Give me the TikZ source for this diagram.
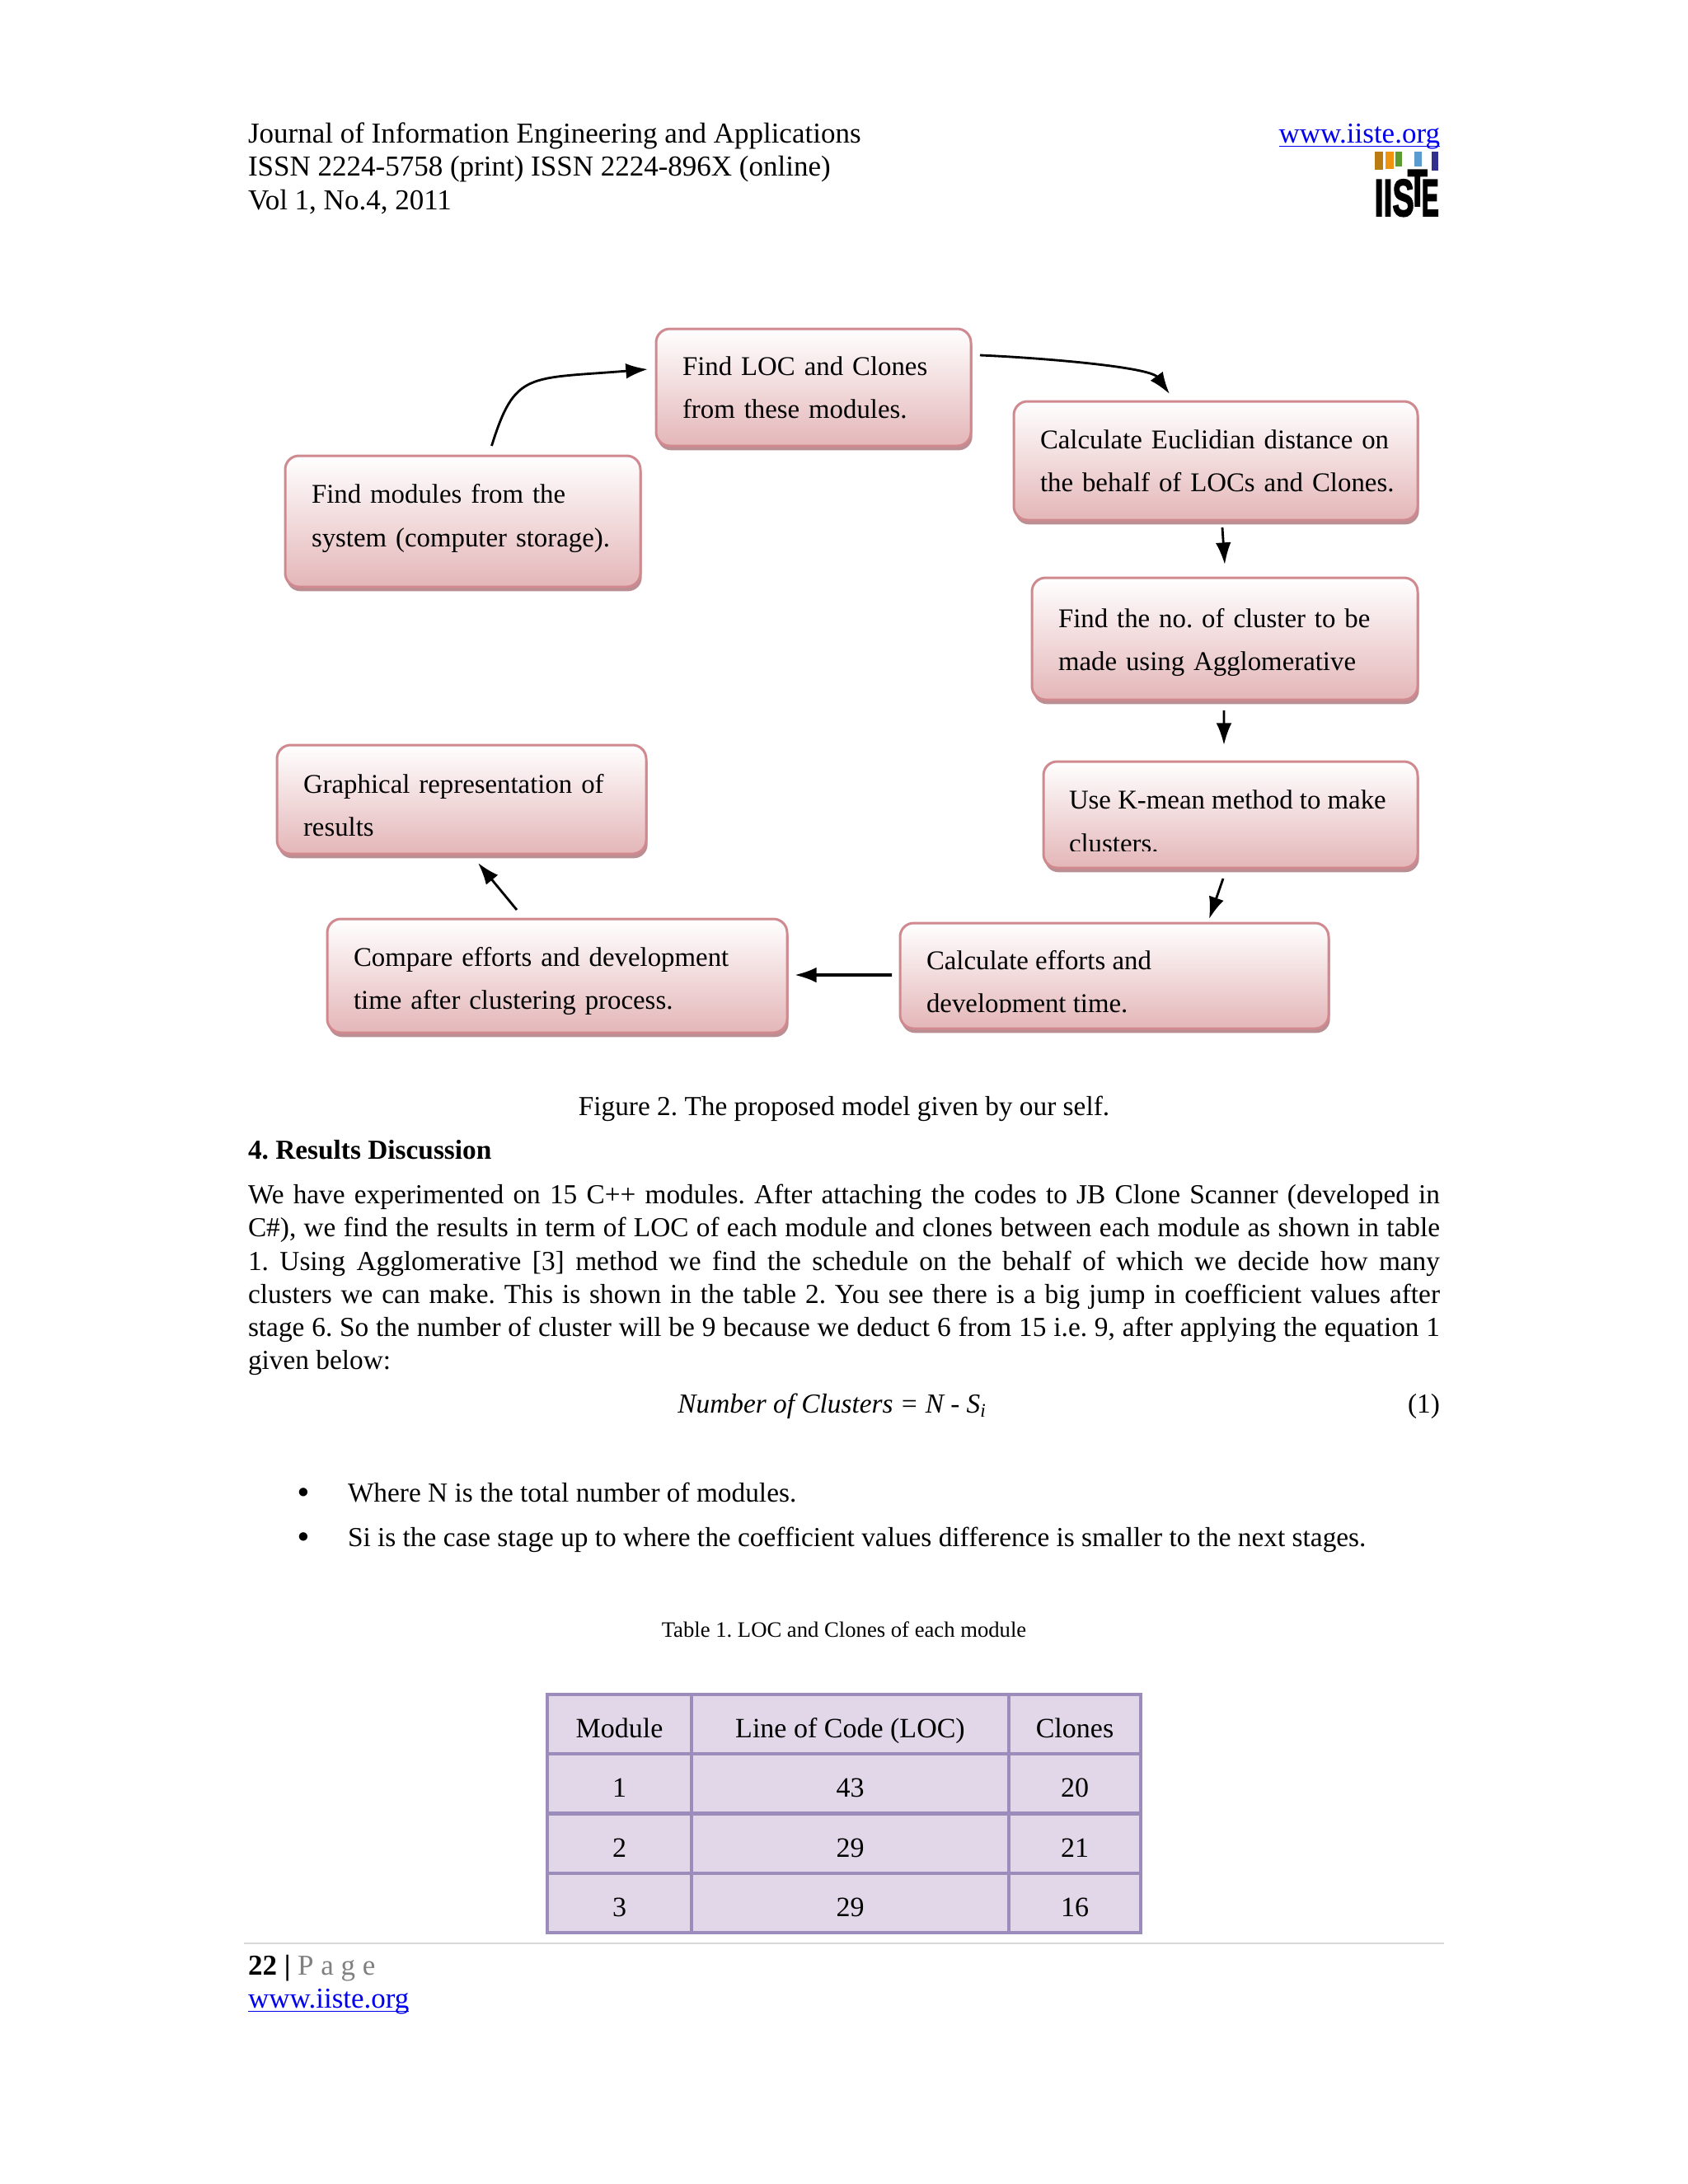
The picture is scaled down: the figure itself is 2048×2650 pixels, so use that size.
\documentclass[tikz,border=0pt]{standalone}
\usepackage{graphicx}
\usepackage{fontspec}
\setmainfont{Liberation Serif}
\newfontfamily\logofont[BoldFeatures={FakeBold=3}]{Liberation Sans}
\usetikzlibrary{arrows.meta,calc,shadows}
\definecolor{boxline}{HTML}{D0898F}
\definecolor{boxmid}{HTML}{F0D8D9}
\definecolor{boxlow}{HTML}{E4B6B8}
\definecolor{boxshadow}{HTML}{B98F93}
\definecolor{gridline}{HTML}{9C8CBC}
\definecolor{gridfill}{HTML}{E1D7E9}
\definecolor{linkblue}{HTML}{0000EE}
\tikzset{
  >=Latex,
  flowbox/.style={draw=boxline, line width=.9pt, rounded corners=5pt, anchor=north west,
    top color=white, middle color=boxmid, bottom color=boxlow, align=left,
    inner xsep=9.6pt, inner ysep=0pt, outer sep=0pt,
    font=\frenchspacing\fontsize{9.85}{15.7}\selectfont,
    drop shadow={shadow xshift=.5pt, shadow yshift=-1.6pt, fill=boxshadow, opacity=1}},
  arr/.style={-{Latex[length=8pt,width=5.6pt]}, line width=.85pt},
  pagetext/.style={inner sep=0pt, outer sep=0pt, anchor=north west, align=left,
    font=\frenchspacing\fontsize{10}{12.08}\selectfont},
  headtext/.style={pagetext, font=\frenchspacing\fontsize{10.5}{12.08}\selectfont},
  gridcell/.style={draw=gridline, fill=gridfill, line width=1.2pt, minimum height=21.75pt,
    inner sep=0pt, text height=9.8pt, text depth=0pt, font=\fontsize{10.2}{13}\selectfont}
}
\begin{document}
\begin{tikzpicture}[x=.3pt,y=-.3pt]
\path[use as bounding box, fill=white] (0,0) rectangle (2048,2650);

% ------------------------------------------------------------------
% page head
% ------------------------------------------------------------------
\node[headtext] (journal) at (301,149)
  {Journal of Information Engineering and Applications\\
   ISSN 2224-5758 (print) ISSN 2224-896X (online)\\
   Vol 1, No.4, 2011};
\node[headtext, anchor=base east, text=linkblue] (siteHead) at (1747,173) {\underline{\smash{www.iiste.org}}};

\fill[fill={rgb,255:red,184;green,124;blue,16}] (1668,184) rectangle (1678,206);
\fill[fill={rgb,255:red,240;green,147;blue,15}] (1681,184) rectangle (1691,205);
\fill[fill={rgb,255:red,94;green,154;blue,46}] (1693,184) rectangle (1701,202);
\fill[fill={rgb,255:red,90;green,155;blue,208}] (1716,184) rectangle (1725,202);
\fill[fill={rgb,255:red,48;green,48;blue,143}] (1737,184) rectangle (1745,207);
\node[inner sep=0pt, anchor=base west, font=\logofont\bfseries\fontsize{19}{19}\selectfont] (logoIis) at (1667,262)
  {\scalebox{.62}[1]{IIS}};
\node[inner sep=0pt, anchor=base west, font=\logofont\bfseries\fontsize{19}{19}\selectfont] (logoT) at (1707,250)
  {\scalebox{.62}[1]{T}};
\node[inner sep=0pt, anchor=base west, font=\logofont\bfseries\fontsize{19}{19}\selectfont] (logoE) at (1724,262)
  {\scalebox{.5}[1]{E}};

% ------------------------------------------------------------------
% flow
% ------------------------------------------------------------------
\node[flowbox, text width=95.4pt, minimum height=42.6pt] (findLoc) at (796,399)
  {Find LOC and Clones\\from these modules.};
\node[flowbox, text width=127.8pt, minimum height=43.2pt] (calcDist) at (1230,487)
  {\mbox{Calculate Euclidian distance on}\\\mbox{the behalf of LOCs and Clones.}};
\node[flowbox, text width=110.1pt, minimum height=47.7pt] (findModules) at (346,553)
  {Find modules from the\\\mbox{system (computer storage).}\rule[-4.3pt]{0pt}{4.3pt}};
\node[flowbox, text width=121.2pt, minimum height=44.4pt] (noCluster) at (1252,701)
  {\rule{0pt}{9.5pt}Find the no. of cluster to be\\made using Agglomerative};
\node[flowbox, text width=117pt, minimum height=38.7pt] (kmean) at (1266,924) {};
\node[flowbox, text width=115.2pt, minimum height=39.6pt] (graphical) at (336,904)
  {\rule{0pt}{11pt}Graphical representation of\\results};
\node[flowbox, text width=148.2pt, minimum height=41.4pt] (compare) at (397,1115)
  {\rule{0pt}{11pt}Compare efforts and development\\time after clustering process.};
\node[flowbox, text width=136.8pt, minimum height=38.4pt] (calcEffort) at (1092,1120) {};

\begin{scope}
  \clip (1290,940) rectangle (1700,1032);
  \node[pagetext, font=\frenchspacing\fontsize{9.85}{15.7}\selectfont] (kmeanText) at (1297,959)
    {Use K-mean method to make\\clusters.};
\end{scope}
\begin{scope}
  \clip (1110,1135) rectangle (1590,1228);
  \node[pagetext, font=\frenchspacing\fontsize{9.85}{15.7}\selectfont] (effortText) at (1124,1153)
    {Calculate efforts and\\development time.};
\end{scope}

\draw[arr] ($(findModules.north)+(35,-12)$) .. controls (625,450) and (640,460) .. ($(findLoc.west)+(-10,-22)$);
\draw[arr] ($(findLoc.east)+(11,-39)$) .. controls (1260,434) and (1395,445) .. ($(calcDist.north)+(-56,-9)$);
\draw[arr] ($(calcDist.south)+(8,9)$) -- ($(noCluster.north)+(0,-16)$);
\draw[arr] ($(noCluster.south)+(-1,13)$) -- ($(kmean.north)+(-8,-20)$);
\draw[arr] ($(kmean.south)+(-9,13)$) -- ($(calcEffort.north)+(115,-5)$);
\draw[arr, line width=1.1pt] ($(calcEffort.west)+(-10,-1)$) -- ($(compare.east)+(9,-1)$);
\draw[arr] ($(compare.north)+(-49,-11)$) -- ($(graphical.south)+(20,11)$);

% ------------------------------------------------------------------
% body text
% ------------------------------------------------------------------
\node[pagetext, anchor=center] (caption) at (1024,1345) {Figure 2. The proposed model given by our self.};
\node[pagetext, font=\frenchspacing\fontsize{10}{12.08}\selectfont\bfseries] (results) at (301,1383) {4. Results Discussion};
\node[pagetext, align=justify, text width=433.8pt] (para) at (301,1437)
  {We have experimented on 15 C++ modules. After attaching the codes to JB Clone Scanner (developed in\linebreak
   C\#), we find the results in term of LOC of each module and clones between each module as shown in table\linebreak
   1. Using Agglomerative [3] method we find the schedule on the behalf of which we decide how many\linebreak
   clusters we can make. This is shown in the table 2. You see there is a big jump in coefficient values after\linebreak
   stage 6. So the number of cluster will be 9 because we deduct 6 from 15 i.e. 9, after applying the equation 1\linebreak
   given below:};
\node[pagetext, anchor=center, font=\frenchspacing\fontsize{10}{12.08}\selectfont\itshape] (equation) at (1010,1706)
  {Number of Clusters = N - S\textsubscript{i}};
\node[pagetext, anchor=east] (eqNumber) at (1747,1706) {(1)};

\node[pagetext, anchor=center] (bulletA) at (368,1812) {\scalebox{.8}{$\bullet$}};
\node[pagetext, anchor=west] (itemA) at (422,1811) {Where N is the total number of modules.};
\node[pagetext, anchor=center] (bulletB) at (368,1866) {\scalebox{.8}{$\bullet$}};
\node[pagetext, anchor=west] (itemB) at (422,1868) {Si is the case stage up to where the coefficient values difference is smaller to the next stages.};

\node[pagetext, anchor=center, font=\frenchspacing\fontsize{8}{10}\selectfont] (tableCaption) at (1024,1977) {Table 1. LOC and Clones of each module};

% ------------------------------------------------------------------
% table
% ------------------------------------------------------------------
\node[gridcell, minimum width=52.5pt] (headModule) at (751.5,2092) {Module};
\node[gridcell, minimum width=115.5pt] (headLoc) at (1031.5,2092) {Line of Code (LOC)};
\node[gridcell, minimum width=48pt] (headClones) at (1304,2092) {Clones};
\node[gridcell, minimum width=52.5pt] (moduleA) at (751.5,2164) {1};
\node[gridcell, minimum width=115.5pt] (locA) at (1031.5,2164) {43};
\node[gridcell, minimum width=48pt] (clonesA) at (1304,2164) {20};
\node[gridcell, minimum width=52.5pt] (moduleB) at (751.5,2237) {2};
\node[gridcell, minimum width=115.5pt] (locB) at (1031.5,2237) {29};
\node[gridcell, minimum width=48pt] (clonesB) at (1304,2237) {21};
\node[gridcell, minimum width=52.5pt] (moduleC) at (751.5,2309) {3};
\node[gridcell, minimum width=115.5pt] (locC) at (1031.5,2309) {29};
\node[gridcell, minimum width=48pt] (clonesC) at (1304,2309) {16};

% ------------------------------------------------------------------
% page foot
% ------------------------------------------------------------------
\draw[black!15, line width=.5pt] (296,2358) -- (1752,2358);
\node[headtext] (pageNo) at (301,2372) {\textbf{22 | }\textcolor{black!50}{P a g e}};
\node[headtext, anchor=base west, text=linkblue] (siteFoot) at (301,2436) {\underline{\smash{www.iiste.org}}};
\end{tikzpicture}
\end{document}
